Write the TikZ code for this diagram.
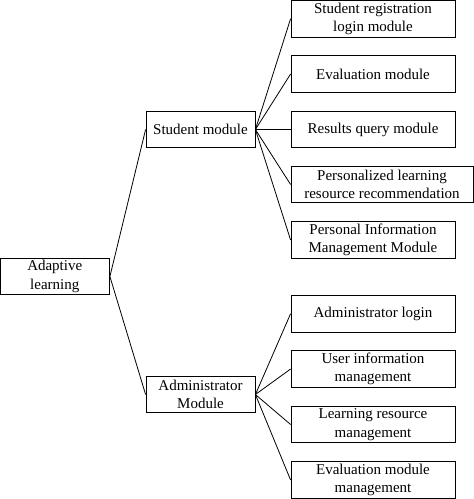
\documentclass[tikz,border=0pt]{standalone}
\usepackage{fontspec}
\setmainfont{Liberation Serif}
\begin{document}
\begin{tikzpicture}[x=1pt,y=-1pt,
	box/.style={draw,line width=0.8pt,rectangle,inner sep=0pt,minimum height=36.6pt,align=center,font=\fontsize{15}{18.5}\selectfont},
	mid/.style={box,minimum width=109pt},
	leaf/.style={box,minimum width=164pt}]
	\useasboundingbox (0,0) rectangle (474,499);
	\node[mid,minimum width=109.5pt](root) at (54.75,276.5){Adaptive\\learning};
	\node[mid](stu) at (200.5,129.5){Student module};
	\node[mid](adm) at (200.5,394.5){Administrator\\Module};
	\node[leaf](s1) at (373,18.7){Student registration\\login module};
	\node[leaf](s2) at (373,74){Evaluation module};
	\node[leaf](s3) at (373,129.5){Results query module};
	\node[leaf,minimum width=182pt](s4) at (382,184.5){Personalized learning\\resource recommendation};
	\node[leaf](s5) at (373,240){Personal Information\\Management Module};
	\node[leaf](a1) at (373,313.7){Administrator login};
	\node[leaf](a2) at (373,369){User information\\management};
	\node[leaf](a3) at (373,424.5){Learning resource\\management};
	\node[leaf](a4) at (373,480){Evaluation module\\management};
	\draw[line width=0.8pt] (root.east)--(stu.west);
	\draw[line width=0.8pt] (root.east)--(adm.west);
	\foreach \n in {s1,s2,s3,s4,s5}
		\draw[line width=0.8pt] (stu.east)--(\n.west);
	\foreach \n in {a1,a2,a3,a4}
		\draw[line width=0.8pt] (adm.east)--(\n.west);
\end{tikzpicture}
\end{document}
